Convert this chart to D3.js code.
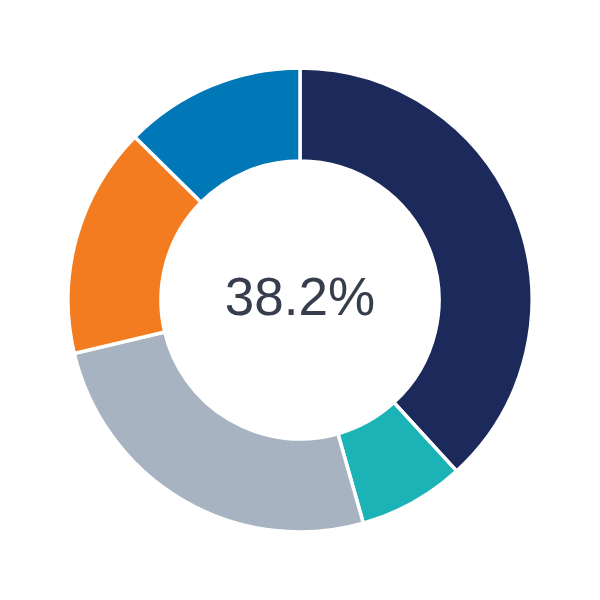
<!DOCTYPE html>
<html><head><meta charset="utf-8">
<script src="https://cdn.jsdelivr.net/npm/d3@7"></script>
<style>html,body{margin:0;padding:0;background:#fff;}</style>
</head><body>
<div id="chart"></div>
<script>
const categories = ["A", "B", "C", "D", "E"];
const values = [38.2, 7.4, 25.7, 16.1, 12.6];
const colors = ["#1b2a5a", "#1bb3b5", "#a8b3c2", "#f47c20", "#0077b6"];
const centerLabel = "38.2%";

const W = 600, H = 600, cx = 300, cy = 300, R = 232, r = 139;
const svg = d3.select("#chart").append("svg").attr("width", W).attr("height", H);
const g = svg.append("g").attr("transform", `translate(${cx},${cy})`);
const data = categories.map((c, i) => ({cat: c, value: values[i], color: colors[i]}));
const pie = d3.pie().value(d => d.value).sort(null);
const arc = d3.arc().innerRadius(r).outerRadius(R);
g.selectAll("path").data(pie(data)).join("path")
  .attr("d", arc).attr("fill", d => d.data.color)
  .attr("stroke", "#fff").attr("stroke-width", 3.5).attr("stroke-linejoin", "miter");
g.append("text").attr("text-anchor", "middle").attr("y", 15)
  .attr("font-family", "Liberation Sans, Arial, sans-serif").attr("font-size", 53)
  .attr("fill", "#363d4d").text(centerLabel);
</script>
</body></html>
